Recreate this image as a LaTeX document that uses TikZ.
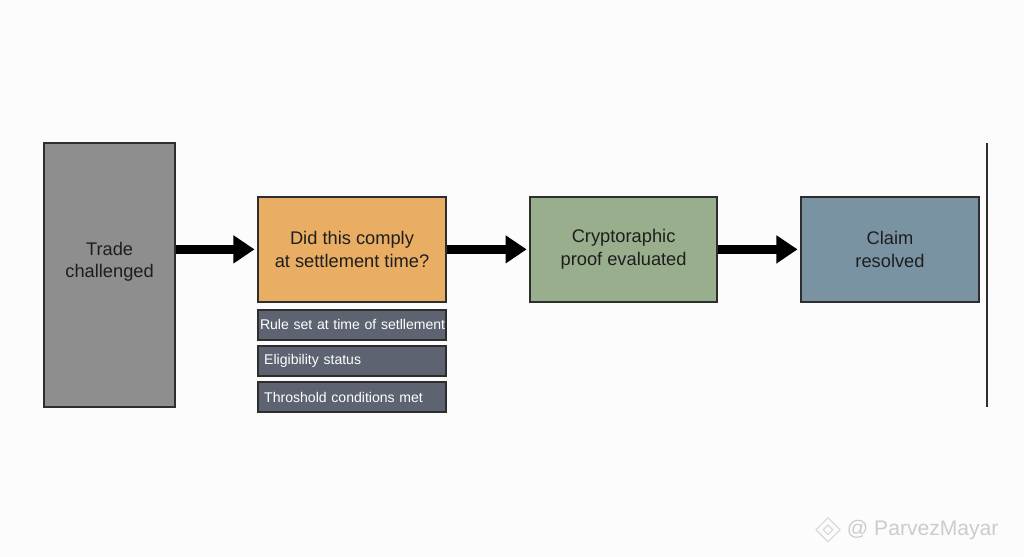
\documentclass[tikz,border=0pt]{standalone}
\usepackage{fontspec}
\setmainfont{Liberation Sans}
\usetikzlibrary{positioning,arrows.meta}
\begin{document}
\begin{tikzpicture}[font=\fontsize{13}{16}\selectfont]
\definecolor{bgwhite}{HTML}{FCFCFC}
\definecolor{tradegray}{HTML}{8E8E8E}
\definecolor{checkorange}{HTML}{E9AE64}
\definecolor{proofgreen}{HTML}{98AE8C}
\definecolor{claimblue}{HTML}{7993A3}
\definecolor{factslate}{HTML}{5D6370}
\definecolor{edgedark}{HTML}{2E2E2E}
\definecolor{inkdark}{HTML}{1E1E1E}
\tikzset{
  stepbox/.style={draw=edgedark,line width=0.9pt,align=center,text=inkdark,inner sep=2pt},
  factbox/.style={draw=edgedark,line width=0.9pt,fill=factslate,text=white,
    minimum width=4.7cm,minimum height=0.75cm,text width=4.6cm,align=left,
    inner sep=1.5pt,font=\fontsize{10}{12}\selectfont},
  bigarrow/.style={line width=6.5pt,-{Triangle[length=15pt,width=19pt]}}
}
\fill[bgwhite] (0,0) rectangle (25.6,13.925);
\useasboundingbox (0,0) rectangle (25.6,13.925);
% main steps
\node[stepbox,fill=tradegray,minimum width=3.275cm,minimum height=6.6cm] (trade) at (2.74,7.05) {};
\node[align=center,text=inkdark] (tradetext) at ([yshift=0.33cm]trade.center) {Trade\\challenged};
\node[stepbox,fill=checkorange,minimum width=4.7cm,minimum height=2.625cm] (check) at (8.8,7.69) {Did this comply\\at settlement time?};
\node[stepbox,fill=proofgreen,minimum width=4.675cm,minimum height=2.625cm] (proof) at (15.59,7.69) {Cryptoraphic\\proof evaluated};
\node[stepbox,fill=claimblue,minimum width=4.45cm,minimum height=2.625cm] (claim) at (22.25,7.69) {Claim\\resolved};
% facts under the check
\node[factbox,below=0.17cm of check] (ruleset) {\mbox{Rule set at time of setllement}};
\node[factbox,below=0.12cm of ruleset] (eligible) {\hspace{3pt}Eligibility status};
\node[factbox,below=0.12cm of eligible] (threshold) {\hspace{3pt}Throshold conditions met};
% arrows
\draw[bigarrow] (trade.east |- check) -- ([xshift=-2pt]check.west);
\draw[bigarrow] (check.east) -- ([xshift=-2pt]proof.west);
\draw[bigarrow] (proof.east) -- ([xshift=-2pt]claim.west);
% right edge
\coordinate (edgetop) at (24.675,10.35);
\coordinate (edgebot) at (24.675,3.75);
\draw[edgedark,line width=1pt] (edgetop) -- (edgebot);
% watermark
\node[text=black!20,anchor=west,font=\fontsize{15}{17}\selectfont] (mark) at (21.05,0.68) {@ ParvezMayar};
\draw[black!15,line width=0.8pt] ([xshift=-0.35cm]mark.west) ++(0,0.3) -- ++(0.3,-0.3) -- ++(-0.3,-0.3) -- ++(-0.3,0.3) -- cycle;
\draw[black!15,line width=0.8pt] ([xshift=-0.35cm]mark.west) ++(0,0.12) -- ++(0.12,-0.12) -- ++(-0.12,-0.12) -- ++(-0.12,0.12) -- cycle;
\end{tikzpicture}
\end{document}
